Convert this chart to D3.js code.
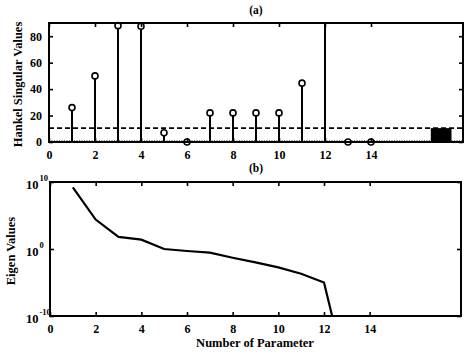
<!DOCTYPE html>
<html>
<head>
<meta charset="utf-8">
<script src="https://cdn.jsdelivr.net/npm/d3@7"></script>
<style>
  body { margin: 0; background: #fff; }
  svg { display: block; }
  text { font-family: "Liberation Serif", "DejaVu Serif", serif; font-weight: bold; fill: #000; }
  .axis path, .axis line { stroke: #000; }
</style>
</head>
<body>
<div id="chart"></div>
<script>
// panel (a) data
const hankelIndex = [1, 2, 3, 4, 5, 6, 7, 8, 9, 10, 11, 12, 13, 14]
const hankelValues = [26, 50, 88, 87.5, 7, 0, 22, 22, 22, 22, 44.5, 400, 0, 0]
const hankelMarked = [1, 1, 1, 1, 1, 1, 1, 1, 1, 1, 1, 0, 1, 1]
const threshold = 10.5
const dottedLevel = 0.8
const blockX = [16.6, 17.5]
const blockY = [0, 10.5]

// panel (b) data, exponent of 10
const eigenIndex = [1, 2, 3, 4, 5, 6, 7, 8, 9, 10, 11, 12, 13]
const eigenExp = [9.2, 4.4, 1.8, 1.4, 0, -0.3, -0.55, -1.3, -2.0, -2.75, -3.7, -5, -19]

const xTicks = [0, 2, 4, 6, 8, 10, 12, 14]
const hankelTicks = [0, 20, 40, 60, 80]
const eigenTicks = [-10, 0, 10]

const W = 474, H = 355
const svg = d3.select('#chart').append('svg')
  .attr('width', W).attr('height', H)

function styleAxis(g) {
  g.attr('font-family', '"Liberation Serif", serif').attr('font-size', 12)
  g.selectAll('text')
    .attr('font-family', '"Liberation Serif", serif')
    .attr('font-weight', 'bold')
    .attr('font-size', 12)
  g.selectAll('line').attr('stroke-width', 1.6)
}

// ---------- panel (a) ----------
const A = { L: 49, R: 463, T: 23, B: 142 }

const xa = d3.scaleLinear().domain([0, 18]).range([A.L, A.R])
const ya = d3.scaleLinear().domain([0, 90]).range([A.B, A.T])

svg.append('defs').append('clipPath').attr('id', 'clipA')
  .append('rect').attr('x', A.L).attr('y', A.T).attr('width', A.R - A.L).attr('height', A.B - A.T)

const gA = svg.append('g').attr('clip-path', 'url(#clipA)')

gA.append('line')
  .attr('x1', A.L).attr('x2', A.R)
  .attr('y1', ya(threshold)).attr('y2', ya(threshold))
  .attr('stroke', '#000').attr('stroke-width', 1.8).attr('stroke-dasharray', '5,3')

gA.append('line')
  .attr('x1', A.L).attr('x2', A.R)
  .attr('y1', ya(dottedLevel)).attr('y2', ya(dottedLevel))
  .attr('stroke', '#000').attr('stroke-width', 1).attr('stroke-dasharray', '1,1.5')

gA.append('rect')
  .attr('x', xa(blockX[0])).attr('width', xa(blockX[1]) - xa(blockX[0]))
  .attr('y', ya(blockY[1])).attr('height', ya(blockY[0]) - ya(blockY[1]))
  .attr('fill', '#000')

const stems = hankelIndex.map((d, i) => ({ x: d, v: hankelValues[i], m: hankelMarked[i] }))

gA.selectAll('.stem').data(stems).enter().append('line')
  .attr('class', 'stem')
  .attr('x1', d => xa(d.x)).attr('x2', d => xa(d.x))
  .attr('y1', ya(0)).attr('y2', d => ya(d.v))
  .attr('stroke', '#000').attr('stroke-width', 2)

svg.selectAll('.mark').data(stems.filter(d => d.m)).enter().append('circle')
  .attr('class', 'mark')
  .attr('cx', d => xa(d.x)).attr('cy', d => ya(d.v))
  .attr('r', 3)
  .attr('fill', '#fff').attr('stroke', '#000').attr('stroke-width', 1.6)

// axes (a)
svg.append('g').attr('class', 'axis')
  .attr('transform', `translate(0,${A.B})`)
  .call(d3.axisBottom(xa).tickValues(xTicks).tickSize(-4).tickPadding(8).tickSizeOuter(0))
  .call(styleAxis)
svg.append('g').attr('class', 'axis')
  .attr('transform', `translate(0,${A.T})`)
  .call(d3.axisTop(xa).tickValues(xTicks).tickSize(-4).tickFormat('').tickSizeOuter(0))
  .call(styleAxis)
svg.append('g').attr('class', 'axis')
  .attr('transform', `translate(${A.L},0)`)
  .call(d3.axisLeft(ya).tickValues(hankelTicks).tickSize(-4).tickPadding(7).tickSizeOuter(0))
  .call(styleAxis)
svg.append('g').attr('class', 'axis')
  .attr('transform', `translate(${A.R},0)`)
  .call(d3.axisRight(ya).tickValues(hankelTicks).tickSize(-4).tickFormat('').tickSizeOuter(0))
  .call(styleAxis)

svg.append('rect')
  .attr('x', A.L).attr('y', A.T).attr('width', A.R - A.L).attr('height', A.B - A.T)
  .attr('fill', 'none').attr('stroke', '#000').attr('stroke-width', 2)

svg.append('text')
  .attr('x', 256).attr('y', 14)
  .attr('text-anchor', 'middle').attr('font-size', 11.5)
  .text('(a)')

svg.append('text')
  .attr('transform', `translate(22,${(A.T + A.B) / 2 + 2}) rotate(-90)`)
  .attr('text-anchor', 'middle').attr('font-size', 12.5)
  .text('Hankel Singular Values')

// ---------- panel (b) ----------
const B = { L: 50, R: 461, T: 182, B: 316 }

const xb = d3.scaleLinear().domain([0, 18]).range([B.L, B.R])
const yb = d3.scaleLog().domain([1e-10, 1e10]).range([B.B, B.T])

svg.select('defs').append('clipPath').attr('id', 'clipB')
  .append('rect').attr('x', B.L).attr('y', B.T).attr('width', B.R - B.L).attr('height', B.B - B.T)

const eigen = eigenIndex.map((d, i) => ({ x: d, v: Math.pow(10, eigenExp[i]) }))

svg.append('g').attr('clip-path', 'url(#clipB)')
  .append('path')
  .datum(eigen)
  .attr('fill', 'none').attr('stroke', '#000').attr('stroke-width', 2.2)
  .attr('d', d3.line().x(d => xb(d.x)).y(d => yb(d.v)))

svg.append('g').attr('class', 'axis')
  .attr('transform', `translate(0,${B.B})`)
  .call(d3.axisBottom(xb).tickValues(xTicks).tickSize(-4).tickPadding(8).tickSizeOuter(0))
  .call(styleAxis)
svg.append('g').attr('class', 'axis')
  .attr('transform', `translate(0,${B.T})`)
  .call(d3.axisTop(xb).tickValues(xTicks).tickSize(-4).tickFormat('').tickSizeOuter(0))
  .call(styleAxis)

svg.append('g').attr('class', 'axis')
  .attr('transform', `translate(${B.L},0)`)
  .call(d3.axisLeft(yb).tickValues(eigenTicks.map(e => Math.pow(10, e)))
    .tickSize(-4).tickFormat('').tickSizeOuter(0))
  .call(styleAxis)
svg.append('g').attr('class', 'axis')
  .attr('transform', `translate(${B.R},0)`)
  .call(d3.axisRight(yb).tickValues(eigenTicks.map(e => Math.pow(10, e)))
    .tickSize(-4).tickFormat('').tickSizeOuter(0))
  .call(styleAxis)

// power-of-ten labels
const pw = svg.selectAll('.pw').data(eigenTicks).enter().append('text')
  .attr('class', 'pw')
  .attr('x', 26).attr('y', e => yb(Math.pow(10, e)) + 7)
  .attr('font-size', 12.5)
pw.append('tspan').text('10')
pw.append('tspan').attr('dy', -8).attr('font-size', 8.5).attr('dx', 1).text(e => e)

svg.append('rect')
  .attr('x', B.L).attr('y', B.T).attr('width', B.R - B.L).attr('height', B.B - B.T)
  .attr('fill', 'none').attr('stroke', '#000').attr('stroke-width', 2)

svg.append('text')
  .attr('x', 256).attr('y', 172)
  .attr('text-anchor', 'middle').attr('font-size', 11.5)
  .text('(b)')

svg.append('text')
  .attr('transform', `translate(15,${(B.T + B.B) / 2 + 2}) rotate(-90)`)
  .attr('text-anchor', 'middle').attr('font-size', 12.5)
  .text('Eigen Values')

svg.append('text')
  .attr('x', 255).attr('y', 347)
  .attr('text-anchor', 'middle').attr('font-size', 12.5)
  .text('Number of Parameter')
</script>
</body>
</html>
